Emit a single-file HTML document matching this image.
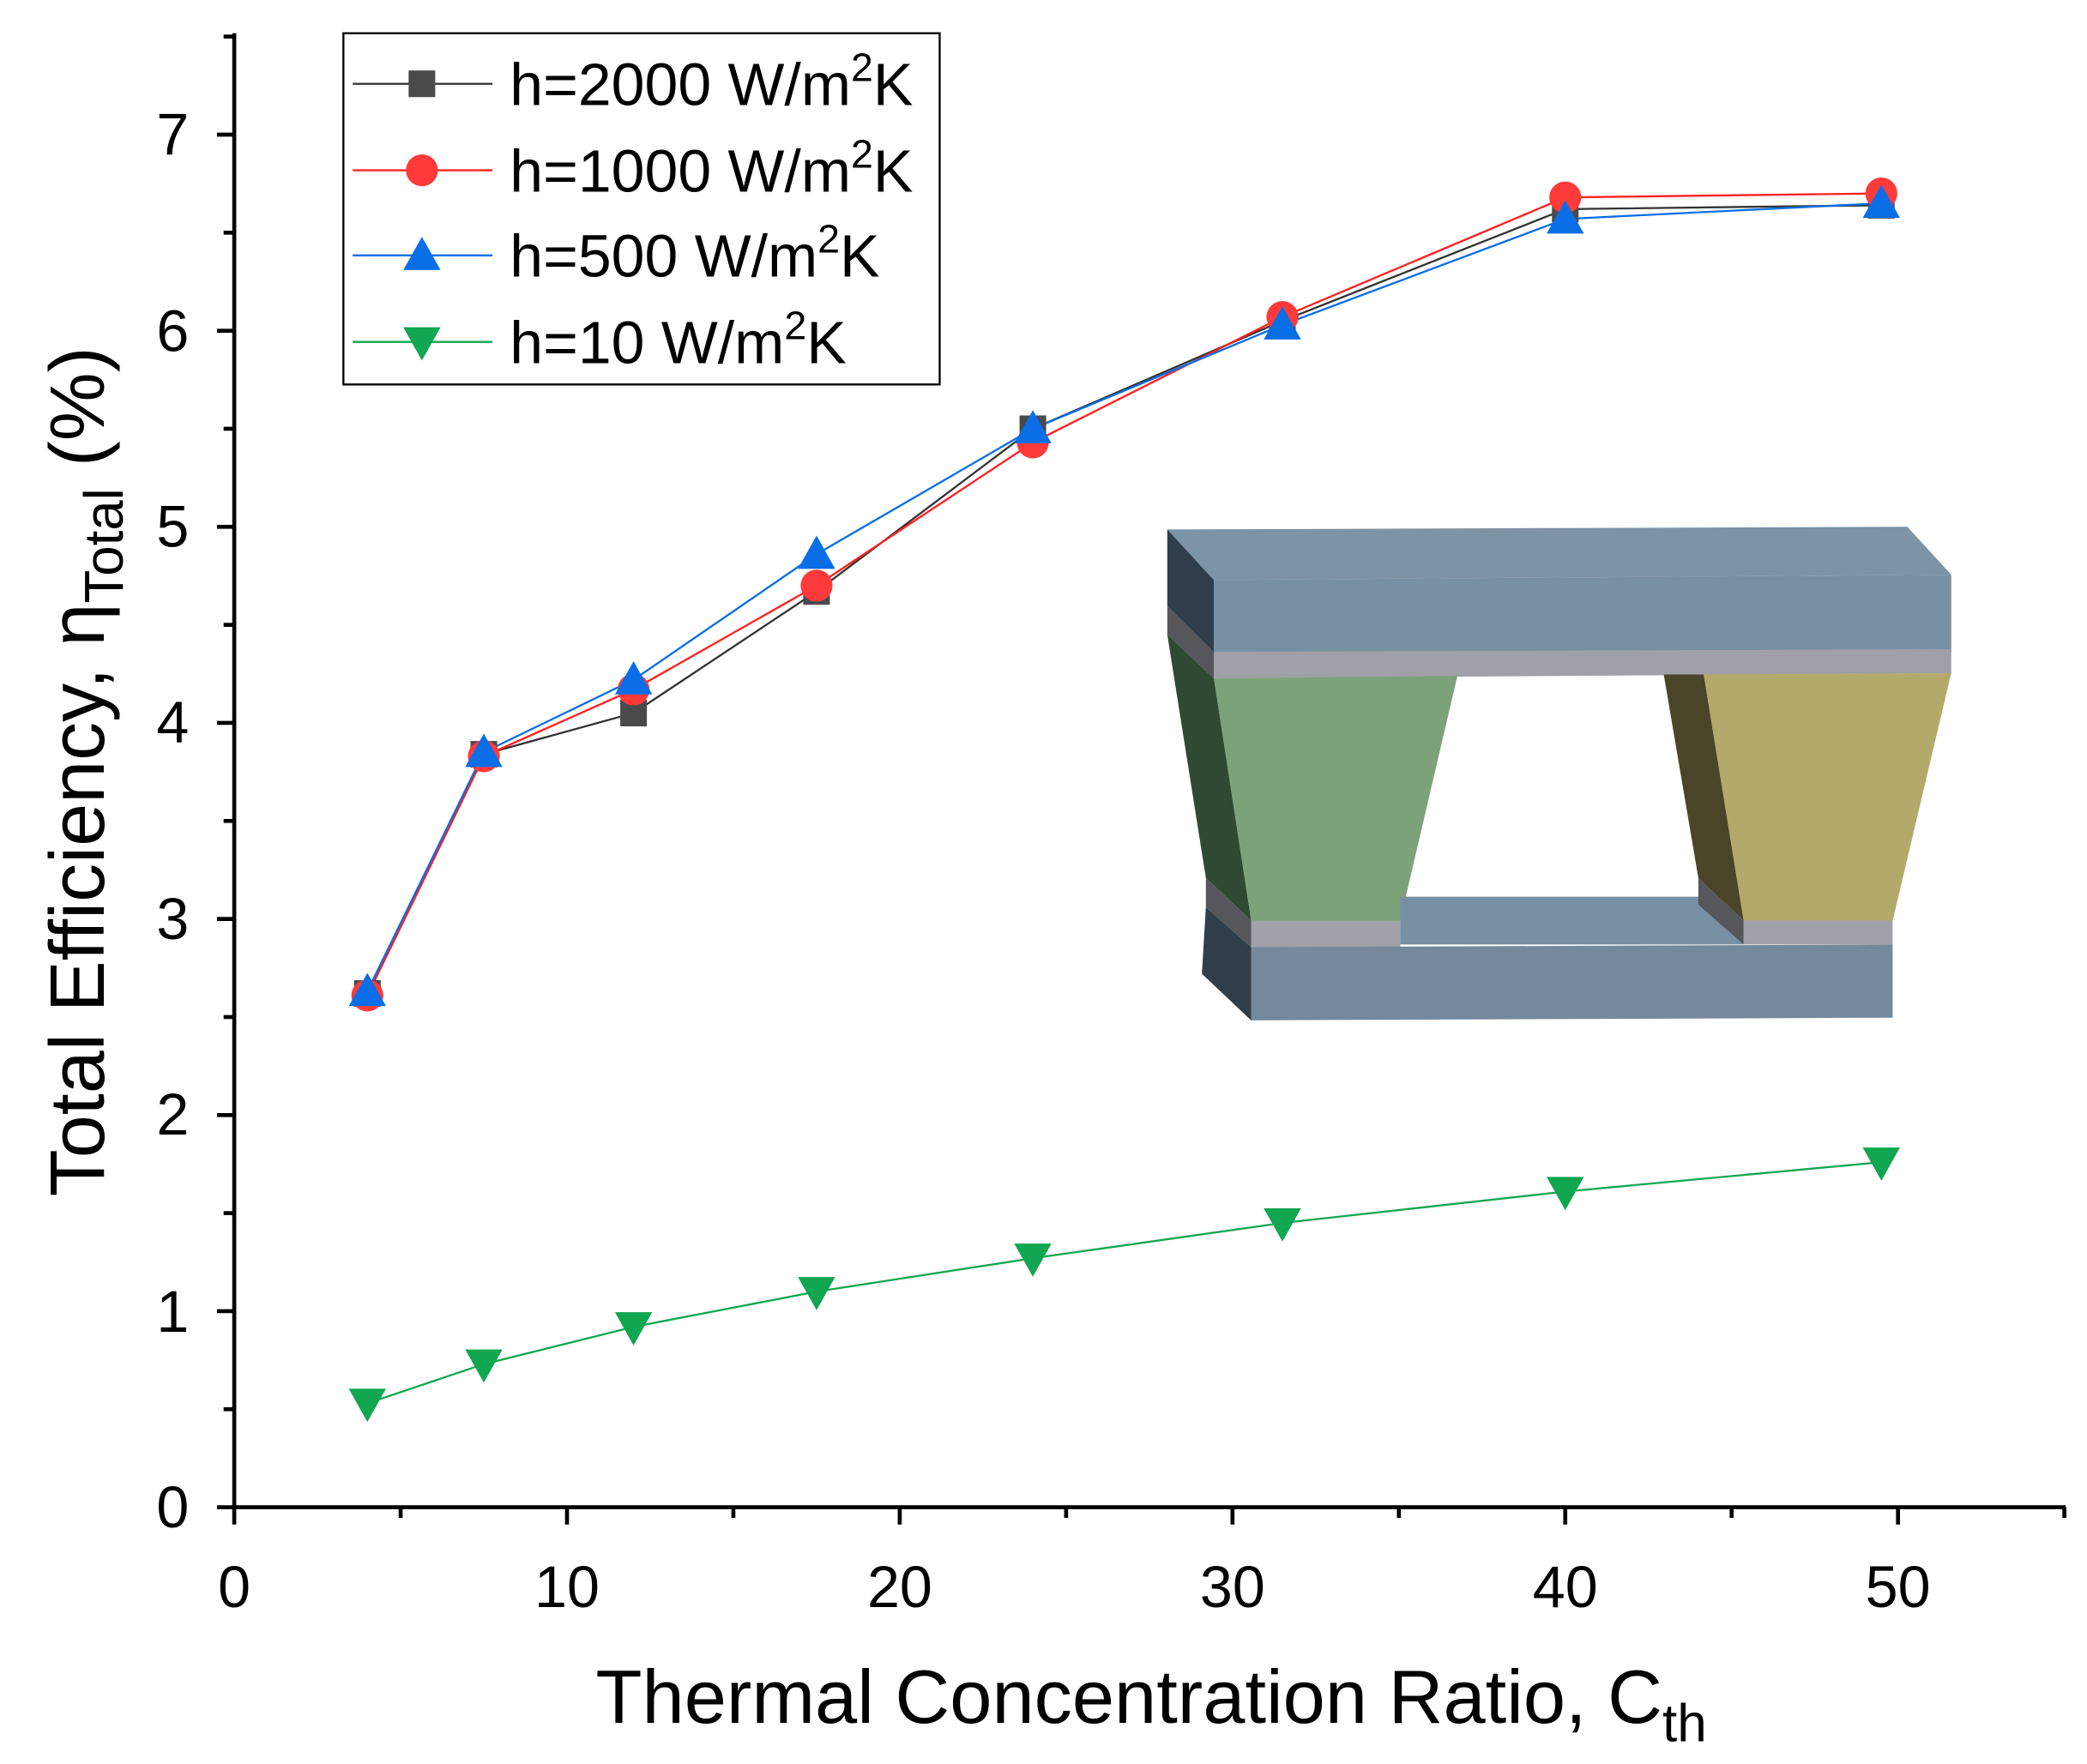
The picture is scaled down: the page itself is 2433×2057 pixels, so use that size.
<!DOCTYPE html>
<html><head><meta charset="utf-8"><style>html,body{margin:0;padding:0;background:#fff}svg{display:block}</style></head>
<body>
<svg width="2433" height="2057" viewBox="0 0 1568 1326" preserveAspectRatio="none" xmlns="http://www.w3.org/2000/svg" font-family="Liberation Sans, Arial, sans-serif">
<defs>
<g id="sq"><rect x="-10" y="-10" width="20" height="20" fill="#4a4a4a"/></g>
<g id="ci"><circle r="12" fill="#ff3a3a"/></g>
<g id="tu"><polygon points="0,-14 14,11 -14,11" fill="#0a6ee6"/></g>
<g id="td"><polygon points="-14,-11 14,-11 0,14" fill="#11a650"/></g>
</defs>
<!-- inset -->
<polygon points="877,398 1433,396 1466,432 912,436" fill="#7d93a6"/>
<polygon points="912,436 1466,432 1466,490 912,492" fill="#7890a4"/>
<polygon points="877,398 912,436 912,492 877,455" fill="#2f3e4a"/>
<polygon points="912,490 1466,488 1466,506 912,510" fill="#a0a0a8"/>
<polygon points="877,455 912,490 912,510 877,477" fill="#55575c"/>
<polygon points="912,510 1095,508 1052,692 940,692" fill="#7da27a"/>
<polygon points="877,477 912,510 940,692 906,660" fill="#2f4a32"/>
<polygon points="1280,507 1466,506 1422,692 1310,692" fill="#b3a96a"/>
<polygon points="1250,507 1280,507 1310,692 1276,660" fill="#4a4528"/>
<polygon points="1052,674 1276,674 1310,710 1052,710" fill="#7890a4"/>
<polygon points="940,692 1052,692 1052,712 940,712" fill="#a0a0a8"/>
<polygon points="1310,692 1422,692 1422,710 1310,710" fill="#a0a0a8"/>
<polygon points="906,660 940,692 940,712 906,682" fill="#55575c"/>
<polygon points="1276,660 1310,692 1310,710 1276,680" fill="#55575c"/>
<polygon points="940,712 1422,710 1422,765 940,767" fill="#74899c"/>
<polygon points="906,682 940,712 940,767 903,732" fill="#2f3e4a"/>
<!-- axes -->
<g stroke="#000" stroke-width="3" fill="none">
<line x1="176" y1="25" x2="176" y2="1134"/>
<line x1="175" y1="1133" x2="1552" y2="1133"/>
</g>
<g stroke="#000" stroke-width="3">
<line x1="176" y1="1133" x2="176" y2="1146"/><line x1="426" y1="1133" x2="426" y2="1146"/><line x1="676" y1="1133" x2="676" y2="1146"/><line x1="926" y1="1133" x2="926" y2="1146"/><line x1="1176" y1="1133" x2="1176" y2="1146"/><line x1="1426" y1="1133" x2="1426" y2="1146"/>
<line x1="301" y1="1133" x2="301" y2="1141"/><line x1="551" y1="1133" x2="551" y2="1141"/><line x1="801" y1="1133" x2="801" y2="1141"/><line x1="1051" y1="1133" x2="1051" y2="1141"/><line x1="1301" y1="1133" x2="1301" y2="1141"/><line x1="1551" y1="1133" x2="1551" y2="1141"/>
<line x1="163" y1="1133" x2="176" y2="1133"/><line x1="163" y1="985.6" x2="176" y2="985.6"/><line x1="163" y1="838.2" x2="176" y2="838.2"/><line x1="163" y1="690.8" x2="176" y2="690.8"/><line x1="163" y1="543.4" x2="176" y2="543.4"/><line x1="163" y1="396" x2="176" y2="396"/><line x1="163" y1="248.6" x2="176" y2="248.6"/><line x1="163" y1="101.2" x2="176" y2="101.2"/>
<line x1="168" y1="1059.3" x2="176" y2="1059.3"/><line x1="168" y1="911.9" x2="176" y2="911.9"/><line x1="168" y1="764.5" x2="176" y2="764.5"/><line x1="168" y1="617.1" x2="176" y2="617.1"/><line x1="168" y1="469.7" x2="176" y2="469.7"/><line x1="168" y1="322.3" x2="176" y2="322.3"/><line x1="168" y1="174.9" x2="176" y2="174.9"/><line x1="168" y1="27.5" x2="176" y2="27.5"/>
</g>
<g font-size="44" text-anchor="middle">
<text x="176" y="1208">0</text><text x="426" y="1208">10</text><text x="676" y="1208">20</text><text x="926" y="1208">30</text><text x="1176" y="1208">40</text><text x="1426" y="1208">50</text>
</g>
<g font-size="44" text-anchor="end">
<text x="142" y="1148">0</text><text x="142" y="1001">1</text><text x="142" y="853">2</text><text x="142" y="706">3</text><text x="142" y="558">4</text><text x="142" y="411">5</text><text x="142" y="264">6</text><text x="142" y="116">7</text>
</g>
<text x="865" y="1295" font-size="57" text-anchor="middle">Thermal Concentration Ratio, C<tspan font-size="40" dy="14">th</tspan></text>
<text transform="translate(78,580) rotate(-90)" font-size="58" text-anchor="middle">Total Efficiency, η<tspan font-size="41" dy="14">Total</tspan><tspan dy="-14"> (%)</tspan></text>
<!-- series -->
<polyline fill="none" stroke="#333" stroke-width="1.5" points="276,746.8 363.5,567 476,536 613.5,444.6 776,322.3 963.5,241.2 1176,157.2 1413.5,154.3"/>
<polyline fill="none" stroke="#ff2020" stroke-width="1.5" points="276,748.3 363.5,568.5 476,518.3 613.5,440.2 776,332.6 963.5,238.3 1176,148.4 1413.5,145.4"/>
<polyline fill="none" stroke="#0a6ee6" stroke-width="1.5" points="276,745.3 363.5,565.5 476,511 613.5,416.6 776,322.3 963.5,244.2 1176,164.6 1413.5,152.8"/>
<polyline fill="none" stroke="#11a650" stroke-width="1.5" points="276,1054.9 363.5,1025.4 476,997.4 613.5,970.9 776,945.8 963.5,919.3 1176,895.7 1413.5,873.6"/>
<use href="#sq" x="276" y="746.8"/><use href="#sq" x="363.5" y="567"/><use href="#sq" x="476" y="536"/><use href="#sq" x="613.5" y="444.6"/><use href="#sq" x="776" y="322.3"/><use href="#sq" x="963.5" y="241.2"/><use href="#sq" x="1176" y="157.2"/><use href="#sq" x="1413.5" y="154.3"/>
<use href="#ci" x="276" y="748.3"/><use href="#ci" x="363.5" y="568.5"/><use href="#ci" x="476" y="518.3"/><use href="#ci" x="613.5" y="440.2"/><use href="#ci" x="776" y="332.6"/><use href="#ci" x="963.5" y="238.3"/><use href="#ci" x="1176" y="148.4"/><use href="#ci" x="1413.5" y="145.4"/>
<use href="#tu" x="276" y="745.3"/><use href="#tu" x="363.5" y="565.5"/><use href="#tu" x="476" y="511"/><use href="#tu" x="613.5" y="416.6"/><use href="#tu" x="776" y="322.3"/><use href="#tu" x="963.5" y="244.2"/><use href="#tu" x="1176" y="164.6"/><use href="#tu" x="1413.5" y="152.8"/>
<use href="#td" x="276" y="1054.9"/><use href="#td" x="363.5" y="1025.4"/><use href="#td" x="476" y="997.4"/><use href="#td" x="613.5" y="970.9"/><use href="#td" x="776" y="945.8"/><use href="#td" x="963.5" y="919.3"/><use href="#td" x="1176" y="895.7"/><use href="#td" x="1413.5" y="873.6"/>
<!-- legend -->
<rect x="258" y="25" width="448" height="264" fill="#fff" stroke="#000" stroke-width="1.5"/>
<line x1="265" y1="63" x2="370" y2="63" stroke="#333" stroke-width="1.5"/><use href="#sq" x="317" y="63"/>
<line x1="265" y1="128" x2="370" y2="128" stroke="#ff2020" stroke-width="1.5"/><use href="#ci" x="317" y="128"/>
<line x1="265" y1="192" x2="370" y2="192" stroke="#0a6ee6" stroke-width="1.5"/><use href="#tu" x="317" y="192"/>
<line x1="265" y1="257" x2="370" y2="257" stroke="#11a650" stroke-width="1.5"/><use href="#td" x="317" y="257"/>
<g font-size="45">
<text x="383" y="79">h=2000 W/m<tspan font-size="30" dy="-18">2</tspan><tspan dy="18">K</tspan></text>
<text x="383" y="144">h=1000 W/m<tspan font-size="30" dy="-18">2</tspan><tspan dy="18">K</tspan></text>
<text x="383" y="208">h=500 W/m<tspan font-size="30" dy="-18">2</tspan><tspan dy="18">K</tspan></text>
<text x="383" y="273">h=10 W/m<tspan font-size="30" dy="-18">2</tspan><tspan dy="18">K</tspan></text>
</g>
</svg>
</body></html>
